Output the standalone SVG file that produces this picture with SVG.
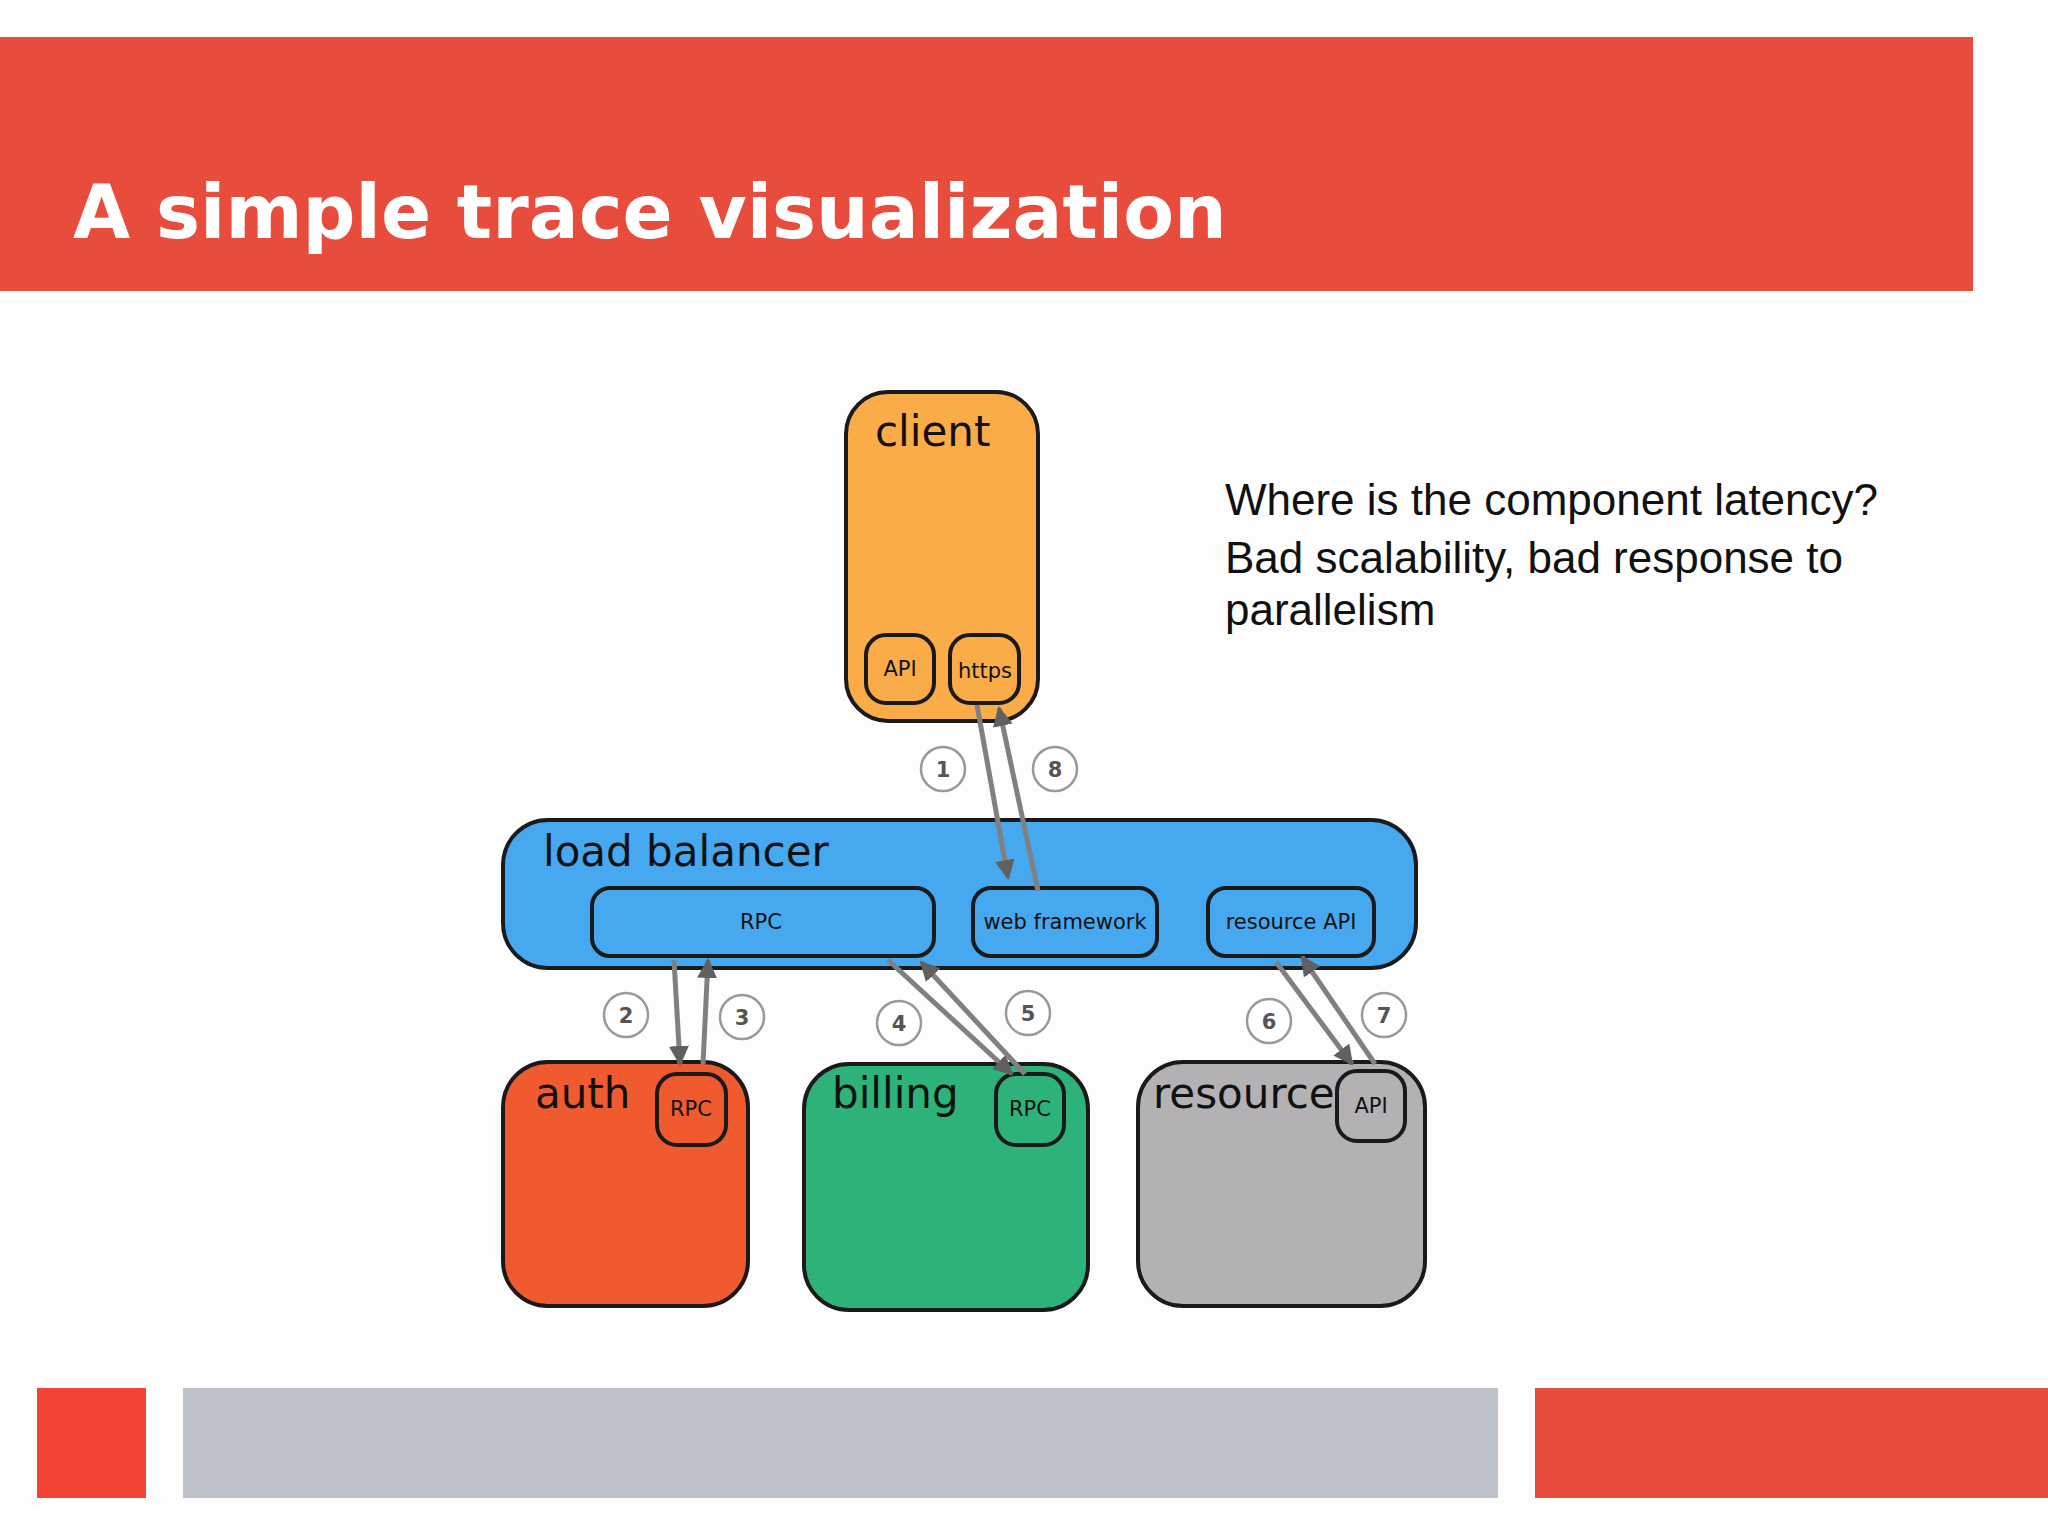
<svg xmlns="http://www.w3.org/2000/svg" width="2048" height="1535" viewBox="0 0 2048 1535">
<style>
.box{stroke:#1a1a1a;stroke-width:4}
.in{stroke:#1a1a1a;stroke-width:4}
.lbl{font-family:"DejaVu Sans",sans-serif;fill:#111}
.sm{font-family:"DejaVu Sans",sans-serif;font-size:21px;fill:#111;text-anchor:middle}
.num circle{fill:#fff;stroke:#999;stroke-width:2.5}
.num text{font-family:"DejaVu Sans",sans-serif;font-size:21px;font-weight:bold;fill:#555;text-anchor:middle}
.ar{stroke:#808080;stroke-width:5;fill:none;marker-end:url(#ah)}
</style>
<defs>
<marker id="ah" viewBox="0 0 10 10" refX="9" refY="5" markerWidth="4" markerHeight="4" orient="auto"><path d="M0,0L10,5L0,10z" fill="#606060"/></marker>
</defs>
<rect width="2048" height="1535" fill="#fdfdfd"/>
<g id="header"><rect x="0" y="37" width="1973" height="254" fill="#E74C3C"/>
<text x="73" y="238" font-family="DejaVu Sans,sans-serif" font-weight="bold" font-size="74" fill="#fff">A simple trace visualization</text></g>
<g id="footer"><rect x="37" y="1388" width="109" height="110" fill="#F44336"/><rect x="183" y="1388" width="1315" height="110" fill="#BEC2CB"/><rect x="1535" y="1388" width="513" height="110" fill="#E74C3C"/></g>
<g id="client"><rect class="box" x="846" y="392" width="192" height="329" rx="42" fill="#F9AC48"/><text class="lbl" x="875" y="446" font-size="42">client</text>
<rect class="in" x="866" y="635" width="68" height="68" rx="20" fill="#F9AC48"/><text class="sm" x="900" y="676">API</text>
<rect class="in" x="950" y="635" width="69" height="68" rx="20" fill="#F9AC48"/><text class="sm" x="985" y="678">https</text></g>
<g id="loadbalancer"><rect class="box" x="503" y="820" width="913" height="148" rx="45" fill="#46A8EE"/><text class="lbl" x="543" y="866" font-size="42">load balancer</text>
<rect class="in" x="592" y="888" width="342" height="68" rx="18" fill="#46A8EE"/><text class="sm" x="761" y="929">RPC</text>
<rect class="in" x="973" y="888" width="184" height="68" rx="18" fill="#46A8EE"/><text class="sm" x="1065" y="929">web framework</text>
<rect class="in" x="1208" y="888" width="166" height="68" rx="18" fill="#46A8EE"/><text class="sm" x="1291" y="929">resource API</text></g>
<g id="auth"><rect class="box" x="503" y="1062" width="245" height="244" rx="45" fill="#F05A2F"/><text class="lbl" x="535" y="1108" font-size="42">auth</text>
<rect class="in" x="657" y="1074" width="69" height="71" rx="20" fill="#F05A2F"/><text class="sm" x="691" y="1116">RPC</text></g>
<g id="billing"><rect class="box" x="804" y="1064" width="284" height="246" rx="45" fill="#2DB37A"/><text class="lbl" x="832" y="1108" font-size="42">billing</text>
<rect class="in" x="996" y="1074" width="68" height="71" rx="20" fill="#2DB37A"/><text class="sm" x="1030" y="1116">RPC</text></g>
<g id="resource"><rect class="box" x="1138" y="1062" width="287" height="244" rx="45" fill="#B3B1B4"/><text class="lbl" x="1153" y="1108" font-size="42">resource</text>
<rect class="in" x="1337" y="1071" width="68" height="70" rx="20" fill="#B3B1B4"/><text class="sm" x="1371" y="1113">API</text></g>
<g id="connectors">
<line class="ar" x1="977" y1="705" x2="1008" y2="878"/>
<line class="ar" x1="1038" y1="891" x2="999" y2="708"/>
<line class="ar" x1="674" y1="960" x2="680" y2="1064"/>
<line class="ar" x1="703" y1="1064" x2="708" y2="960"/>
<line class="ar" x1="888" y1="960" x2="1012" y2="1074"/>
<line class="ar" x1="1025" y1="1074" x2="921" y2="962"/>
<line class="ar" x1="1276" y1="962" x2="1352" y2="1064"/>
<line class="ar" x1="1375" y1="1064" x2="1302" y2="957"/>
</g>
<g id="numbers" class="num">
<g><circle cx="943" cy="769" r="22"/><text x="943" y="777">1</text></g>
<g><circle cx="1055" cy="769" r="22"/><text x="1055" y="777">8</text></g>
<g><circle cx="626" cy="1015" r="22"/><text x="626" y="1023">2</text></g>
<g><circle cx="742" cy="1017" r="22"/><text x="742" y="1025">3</text></g>
<g><circle cx="899" cy="1023" r="22"/><text x="899" y="1031">4</text></g>
<g><circle cx="1028" cy="1013" r="22"/><text x="1028" y="1021">5</text></g>
<g><circle cx="1269" cy="1021" r="22"/><text x="1269" y="1029">6</text></g>
<g><circle cx="1384" cy="1015" r="22"/><text x="1384" y="1023">7</text></g>
</g>
<g id="note" font-family="Liberation Sans,sans-serif" font-size="44" fill="#111">
<text x="1225" y="515">Where is the component latency?</text>
<text x="1225" y="573">Bad scalability, bad response to</text>
<text x="1225" y="625">parallelism</text>
</g>
</svg>
